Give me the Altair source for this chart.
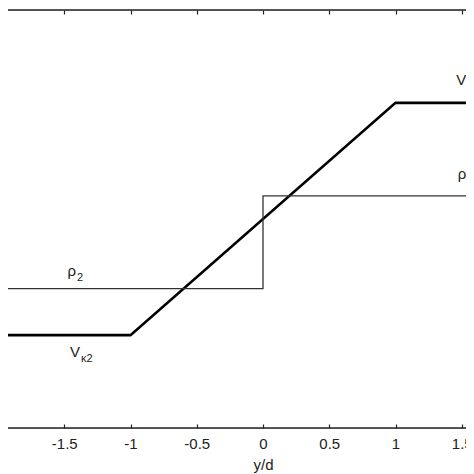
import altair as alt
import pandas as pd

# ---- data ----
v_x = [-2.0, -1.0, 1.0, 2.0]
v_y = [2.0, 2.0, 7.0, 7.0]

rho_x = [-2.0, 0.0, 0.0, 2.0]
rho_y = [3.0, 3.0, 5.0, 5.0]

x_ticks = [-2, -1.5, -1, -0.5, 0, 0.5, 1, 1.5, 2]
y_ticks = [0, 1, 2, 3, 4, 5, 6, 7, 8, 9]

lab_main = ["ρ", "V", "V", "ρ"]
lab_sub = ["2", "κ2", "κ1", "1"]
lab_x = [-1.411, -1.381, 1.535, 1.535]
lab_y = [3.27, 1.53, 7.39, 5.36]

FONT = "Liberation Sans"
INK = "#222"

v_df = pd.DataFrame({"x": v_x, "y": v_y, "o": range(len(v_x))})
rho_df = pd.DataFrame({"x": rho_x, "y": rho_y, "o": range(len(rho_x))})
lab_df = pd.DataFrame({"x": lab_x, "y": lab_y, "main": lab_main, "sub": lab_sub})
frame_df = pd.DataFrame({"x": [x_ticks[0]], "x2": [x_ticks[-1]],
                         "y": [y_ticks[0]], "y2": [y_ticks[-1]]})

xscale = alt.Scale(domain=[-2, 2], nice=False, zero=False)
yscale = alt.Scale(domain=[0, 9], nice=False, zero=False)

x_bottom = alt.Axis(
    orient="bottom", values=x_ticks, offset=-4, tickSize=4, domain=False,
    grid=False, labelPadding=8, labelFontSize=15, labelFont=FONT,
    labelExpr="'' + datum.value",
    labelColor=INK, tickColor=INK, tickWidth=1.2, title="y/d", titleFont=FONT,
    titleFontSize=15, titleFontWeight="normal", titleColor=INK,
    titlePadding=6, labelFlush=False, labelOverlap=False,
)
x_top = alt.Axis(
    orient="top", values=x_ticks, offset=-4, tickSize=4, domain=False,
    grid=False, labels=False, title=None, tickColor=INK, tickWidth=1.2,
)
y_left = alt.Axis(
    orient="left", values=y_ticks, offset=-4, tickSize=4, domain=False,
    grid=False, labelFontSize=15, labelFont=FONT, title=None,
    tickColor=INK, labelColor=INK, tickWidth=1.2,
)
y_right = alt.Axis(
    orient="right", values=y_ticks, offset=-4, tickSize=4, domain=False,
    grid=False, labels=False, title=None, tickColor=INK, tickWidth=1.2,
)

frame = alt.Chart(frame_df).mark_rect(
    fill=None, stroke=INK, strokeWidth=1.3
).encode(
    x=alt.X("x:Q", scale=xscale, axis=None),
    x2="x2:Q",
    y=alt.Y("y:Q", scale=yscale, axis=None),
    y2="y2:Q",
)

v_line = alt.Chart(v_df).mark_line(color="black", strokeWidth=2.6).encode(
    x=alt.X("x:Q", scale=xscale, axis=x_bottom),
    y=alt.Y("y:Q", scale=yscale, axis=y_left),
    order="o:O",
)

rho_line = alt.Chart(rho_df).mark_line(color="#333", strokeWidth=1.3).encode(
    x=alt.X("x:Q", scale=xscale, axis=x_top),
    y=alt.Y("y:Q", scale=yscale, axis=y_right),
    order="o:O",
)

main_txt = alt.Chart(lab_df).mark_text(
    align="right", baseline="alphabetic", font=FONT, fontSize=15, color=INK
).encode(
    x=alt.X("x:Q", scale=xscale, axis=None),
    y=alt.Y("y:Q", scale=yscale, axis=None),
    text="main:N",
)

sub_txt = alt.Chart(lab_df).mark_text(
    align="left", baseline="alphabetic", font=FONT, fontSize=11, color=INK,
    dx=1, dy=5,
).encode(
    x=alt.X("x:Q", scale=xscale, axis=None),
    y=alt.Y("y:Q", scale=yscale, axis=None),
    text="sub:N",
)

chart = (
    alt.layer(frame, v_line, rho_line, main_txt, sub_txt)
    .resolve_axis(x="independent", y="independent")
    .properties(
        width=530,
        height=418,
        padding={"left": -10, "top": 2, "right": -62, "bottom": 46},
        autosize=alt.AutoSizeParams(type="none"),
    )
    .configure_view(stroke=None)
    .configure(background="white")
)

chart.save("out.html", embed_options={"renderer": "svg", "actions": False})
